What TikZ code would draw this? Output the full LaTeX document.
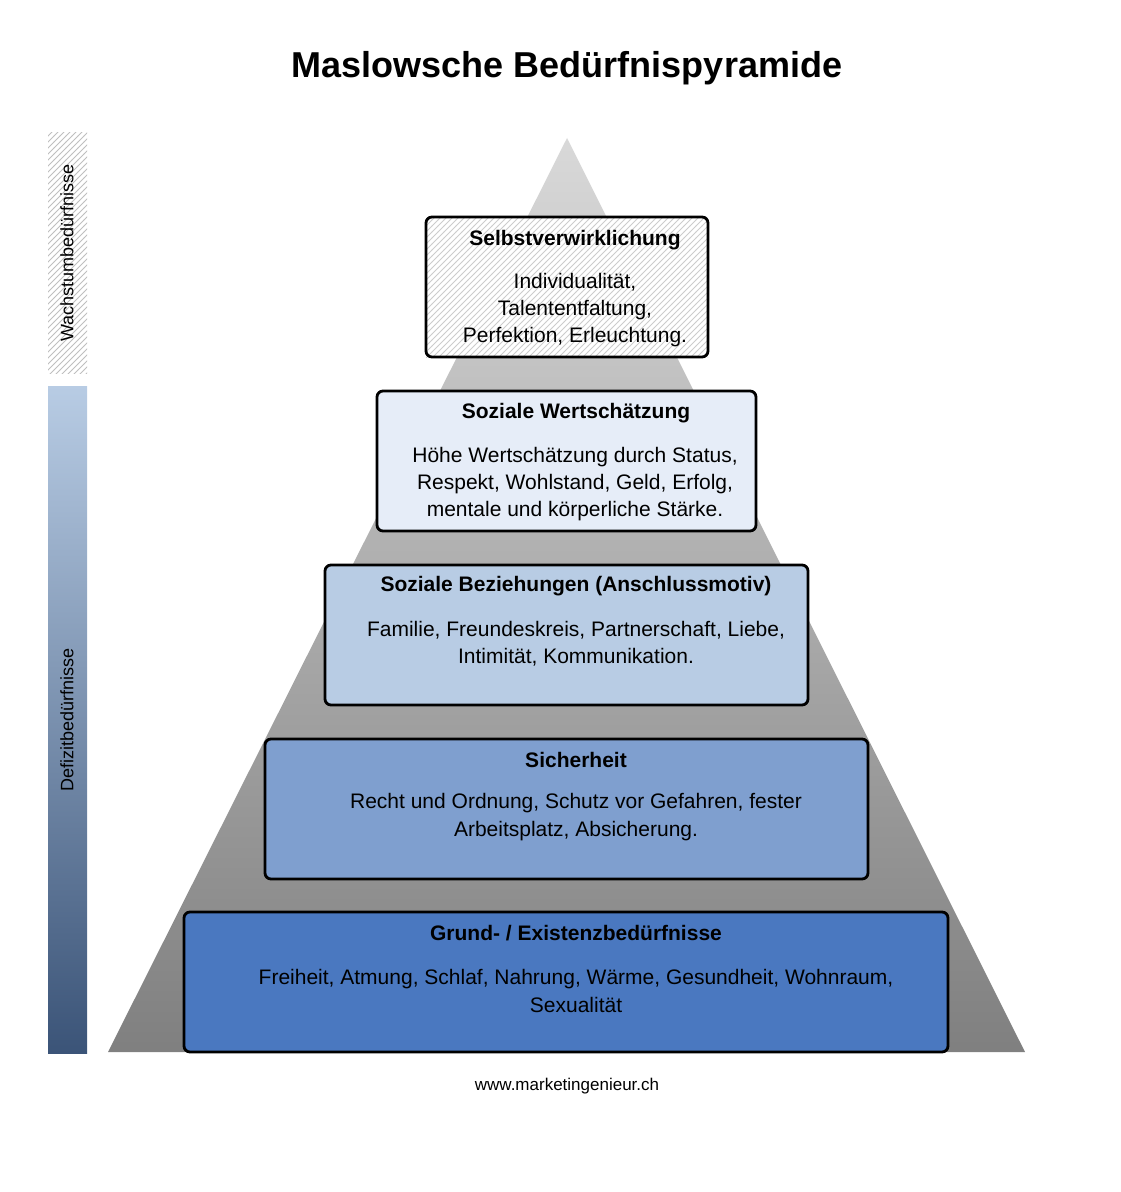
\documentclass[tikz,border=0pt]{standalone}
\usepackage{fontspec}
\setmainfont{Liberation Sans}
\usetikzlibrary{patterns}
\definecolor{b1}{HTML}{E6EDF8}
\definecolor{b2}{HTML}{B8CCE4}
\definecolor{b3}{HTML}{7F9FCF}
\definecolor{b4}{HTML}{4A78C0}
\begin{document}
\begin{tikzpicture}[x=0.5pt,y=-0.5pt,
 lvl/.style={draw=black,line width=1.4pt,rounded corners=3pt},
 ttl/.style={font=\fontsize{10.5}{12}\selectfont\bfseries},
 txt/.style={font=\fontsize{10.5}{13.7}\selectfont,align=center}]
\useasboundingbox (0,0) rectangle (1120,1192);
\node[font=\fontsize{18}{20}\selectfont\bfseries] (title) at (567,68) {Maslowsche Bedürfnispyramide};
\shade[top color=black!15,bottom color=black!50] (567,138) -- (1025,1052) -- (108,1052) -- cycle;
% left bars
\fill[pattern=north east lines,pattern color=black!25] (48,133) rectangle (87,373);
\node[rotate=90,font=\fontsize{9}{10}\selectfont] (wb) at (67,253) {Wachstumbedürfnisse};
\shade[top color=b2,bottom color={rgb,255:red,59;green,84;blue,120}] (48,386) rectangle (87,1053);
\node[rotate=90,font=\fontsize{9}{10}\selectfont] (db) at (67,720) {Defizitbedürfnisse};
% levels
\fill[white,rounded corners=3pt] (426,217) rectangle (708,357);
\fill[pattern=north east lines,pattern color=black!20] (426,217) rectangle (708,357);
\draw[lvl] (426,217) rectangle (708,357);
\node[ttl] (t1) at (575,240) {Selbstverwirklichung};
\node[txt] (x1) at (575,310) {Individualität,\\Talententfaltung,\\Perfektion, Erleuchtung.};
\draw[lvl,fill=b1] (377,391) rectangle (756,531);
\node[ttl] (t2) at (576,413) {Soziale Wertschätzung};
\node[txt] (x2) at (575,484) {Höhe Wertschätzung durch Status,\\Respekt, Wohlstand, Geld, Erfolg,\\mentale und körperliche Stärke.};
\draw[lvl,fill=b2] (325,565) rectangle (808,705);
\node[ttl] (t3) at (576,586) {Soziale Beziehungen (Anschlussmotiv)};
\node[txt] (x3) at (576,644) {Familie, Freundeskreis, Partnerschaft, Liebe,\\Intimität, Kommunikation.};
\draw[lvl,fill=b3] (265,739) rectangle (868,879);
\node[ttl] (t4) at (576,760) {Sicherheit};
\node[txt] (x4) at (576,817) {Recht und Ordnung, Schutz vor Gefahren, fester\\Arbeitsplatz, Absicherung.};
\draw[lvl,fill=b4] (184,912) rectangle (948,1052);
\node[ttl] (t5) at (576,933) {Grund- / Existenzbedürfnisse};
\node[txt] (x5) at (576,991) {Freiheit, Atmung, Schlaf, Nahrung, Wärme, Gesundheit, Wohnraum,\\Sexualität};
\node[font=\fontsize{8.5}{10}\selectfont] (ft) at (567,1086) {www.marketingenieur.ch};
\end{tikzpicture}
\end{document}
